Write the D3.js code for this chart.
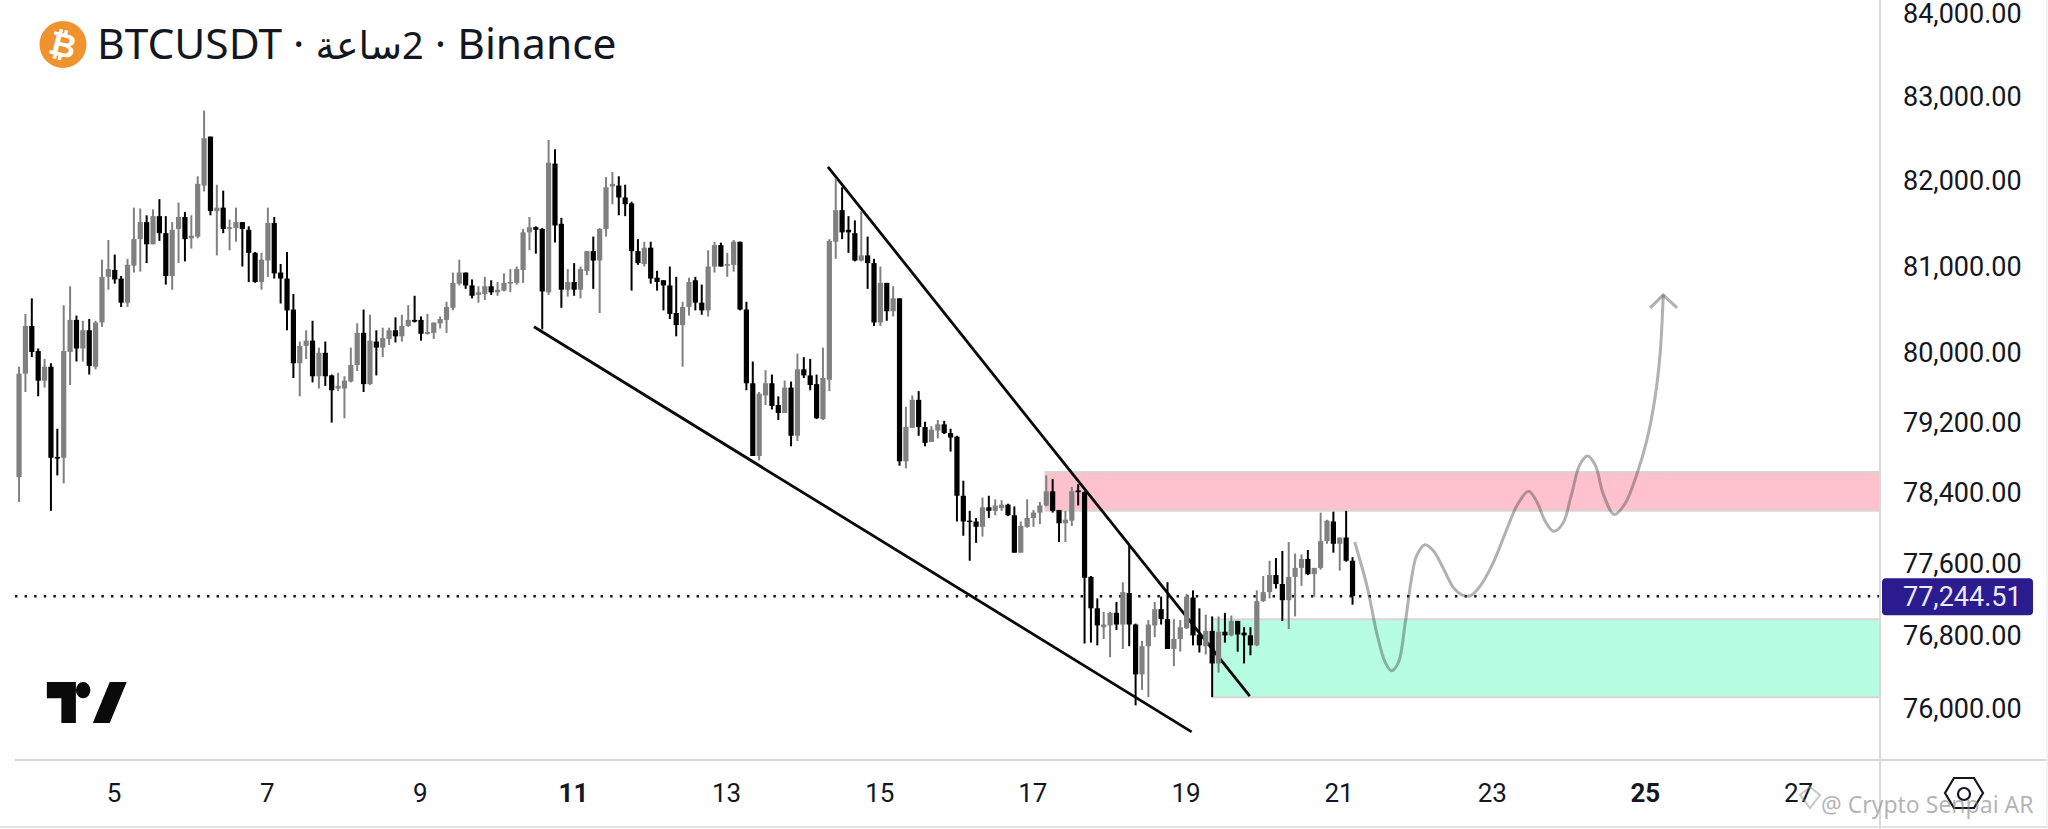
<!DOCTYPE html>
<html>
<head>
<meta charset="utf-8">
<script src="https://cdn.jsdelivr.net/npm/d3@7"></script>
<style>
    html, body { margin: 0; padding: 0; background: #fff; overflow: hidden; }
    text { font-family: Roboto, "Noto Sans", "DejaVu Sans", sans-serif; }
    .axis path, .axis line { display: none; }
</style>
</head>
<body>
<div id="chart"></div>
<script>
// candle values, one entry per 2 hour bar
const opens = [
    78580,79760,80310,80020,79680,79840,78810,78800,80010,80380,
    80050,80260,79840,80350,80880,80960,80860,80580,81010,81320,
    81520,81260,81590,81390,80890,81440,81580,81330,81350,81950,
    82530,81650,81690,81440,81450,81520,81430,81160,80820,81070,
    81510,80930,80860,80500,79880,80080,80140,79730,80000,79740,
    79590,79590,79670,79860,80230,79640,80130,80060,80160,80260,
    80190,80310,80380,80380,80220,80230,80340,80380,80520,80800,
    80930,80780,80670,80680,80770,80700,80720,80810,80810,80960,
    81400,81460,81440,80700,82210,81500,80730,80820,80730,80950,
    81180,81070,81440,81940,81950,81810,81740,81180,81030,81220,
    80870,80840,80780,80460,80320,80530,80840,80580,80490,81000,
    81250,81010,81020,81290,80500,79650,78820,79510,79650,79400,
    79310,79600,79050,79810,79740,79640,79240,79690,81290,81660,
    81430,81390,81070,81130,81040,80350,80810,80480,80630,78760,
    79140,79460,79150,78980,79110,79180,79080,79040,78370,78090,
    78080,78020,78240,78200,78230,78270,78150,77730,78020,78120,
    78180,78260,78420,78210,78060,78090,78430,78410,77460,77110,
    76900,76920,77060,76930,77280,76930,76380,76690,76920,77100,
    76990,76660,76770,76890,77230,76820,76690,76860,76500,76850,
    76810,76970,76840,76810,76700,77190,77290,77480,77380,77200,
    77460,77560,77660,77490,77560,77860,78080,77830,77900,77640
];
const closes = [
    79760,80310,80010,79680,79840,78800,78790,80020,80380,80050,
    80260,79850,80350,80880,80970,80850,80580,81020,81320,81520,
    81260,81590,81390,80890,81430,81580,81320,81360,81970,82510,
    81650,81690,81440,81460,81520,81440,81160,80820,81080,81510,
    80920,80860,80490,79880,80080,80140,79730,80000,79730,79570,
    79620,79680,79860,80230,79640,80140,80060,80170,80260,80190,
    80310,80380,80360,80220,80240,80350,80390,80530,80810,80930,
    80780,80660,80700,80770,80700,80730,80810,80820,80970,81400,
    81460,81430,80710,82220,81480,80730,80820,80730,80970,81180,
    81070,81440,81930,81970,81810,81730,81180,81040,81220,80860,
    80820,80780,80450,80320,80530,80820,80580,80490,81000,81250,
    81000,81030,81290,80500,79650,78820,79530,79650,79390,79310,
    79600,79050,79810,79740,79630,79250,79710,81300,81660,81400,
    81400,81070,81130,81040,80350,80810,80480,80630,78760,79150,
    79460,79150,78970,79120,79180,79080,79030,78370,78080,78080,
    78020,78240,78200,78260,78270,78150,77730,78030,78120,78180,
    78260,78420,78200,78060,78100,78420,78410,77450,77110,76920,
    76930,77060,76930,77290,76930,76380,76690,76930,77100,76990,
    76660,76770,76900,77240,76810,76700,76860,76500,76850,76810,
    76970,76820,76810,76700,77190,77290,77480,77380,77200,77460,
    77560,77660,77490,77560,77860,78090,77830,77900,77640,77244.51
];
const highs = [
    79840,80450,80630,80050,79930,79880,79130,80550,80770,80430,
    80370,80390,80370,81080,81310,81140,80890,81090,81690,81680,
    81600,81670,81790,81590,81520,81750,81640,81600,82060,82840,
    82530,81960,81890,81550,81690,81520,81470,81170,81160,81690,
    81580,81030,81170,80680,80130,80260,80370,80060,80130,79750,
    79770,79730,80060,80340,80500,80440,80260,80290,80290,80410,
    80440,80550,80660,80420,80450,80350,80420,80590,80930,81080,
    80930,80850,80770,80880,80840,80820,80920,80970,81000,81440,
    81580,81470,81450,82490,82380,81570,80970,81040,81000,81180,
    81350,81450,82050,82110,82060,81960,81760,81320,81290,81290,
    80950,80840,81000,80880,80590,80870,80880,80790,81190,81290,
    81280,81160,81310,81290,80590,79900,79550,79800,79750,79500,
    79680,79670,79990,79950,79930,79750,80060,81320,82030,81930,
    81590,81540,81650,81350,81090,81000,80810,80770,80630,79380,
    79510,79560,79210,79160,79230,79220,79130,79050,78540,78200,
    78120,78350,78370,78330,78320,78280,78250,78080,78330,78210,
    78300,78600,78560,78210,78200,78470,78500,78420,77470,77220,
    77070,77070,77180,77400,77810,76940,76750,76980,77180,77240,
    77400,76990,76980,77270,77310,77110,77040,77020,77020,77060,
    77030,76970,76900,76900,77310,77470,77640,77670,77750,77850,
    77720,77710,77760,77560,78180,78100,78190,77900,78200,77680
];
const lows = [
    78300,79550,79950,79500,79600,78200,78600,78510,79630,79900,
    79900,79750,79810,80300,80730,80800,80530,80530,80930,80940,
    81040,81260,81300,80790,80730,81040,81060,81210,81330,81880,
    81600,81130,81390,81190,81290,81000,80820,80810,80730,80880,
    80860,80570,80260,79710,79500,79930,79660,79590,79620,79200,
    79560,79250,79660,79790,79550,79630,79740,79950,80090,80120,
    80130,80300,80350,80140,80210,80160,80280,80230,80490,80780,
    80740,80630,80580,80610,80670,80660,80710,80700,80790,80810,
    81190,81150,80270,80670,81280,80520,80650,80660,80630,80900,
    80740,80460,81350,81730,81600,81590,80720,81020,81000,80800,
    80720,80490,80390,80190,79840,80430,80490,80440,80420,80930,
    81000,80880,80940,80490,79570,78830,78770,79400,79350,79230,
    79310,78930,78990,79710,79570,79240,79230,79560,81090,81320,
    81160,81060,81060,80740,80310,80310,80370,80420,78710,78680,
    79140,79050,78930,78980,79020,79070,78870,78080,77920,77640,
    77840,77910,78120,78150,78200,78140,77730,77730,78010,78020,
    78050,78250,78180,77850,77850,78030,78260,76720,76730,76700,
    76770,76570,76870,76660,76690,76040,76210,76130,76790,76930,
    76660,76470,76630,76880,76700,76620,76600,76130,76400,76730,
    76800,76630,76500,76590,76690,77180,77220,77330,76970,76880,
    77020,77360,77480,77240,77540,77830,77730,77530,77630,77150
];

// axis labels
const priceTicks = [84000, 83000, 82000, 81000, 80000, 79200, 78400, 77600, 76800, 76000];
const dayTicks = [5, 7, 9, 11, 13, 15, 17, 19, 21, 23, 25, 27];
const boldDays = [11, 25];
const lastPrice = 77244.51;

// drawn zones and lines, in [day, price]
const resistanceZone = {days: [17.16, 27.0], prices: [78640, 78200]};
const supportZone = {days: [19.34, 27.0], prices: [76990, 76130]};
const lowerTrendDays = [10.49, 19.08];
const lowerTrendPrices = [80300, 75750];
const upperTrendDays = [14.33, 19.84];
const upperTrendPrices = [82170, 76140];
const forecastDays = [21.21,21.37,21.50,21.61,21.69,21.78,21.87,21.95,22.02,22.13,22.24,22.37,22.50,22.61,22.72,22.85,23.02,23.20,23.33,23.48,23.59,23.70,23.81,23.93,24.04,24.15,24.25,24.35,24.46,24.60,24.74,24.89,25.02,25.13,25.20,25.24];
const forecastPrices = [77850,77360,76830,76510,76420,76510,76950,77430,77700,77820,77750,77550,77340,77260,77250,77360,77620,78000,78260,78420,78300,78080,77970,78060,78380,78720,78820,78720,78380,78160,78280,78600,78980,79470,80000,80670];
const arrowDays = [25.07, 25.24, 25.42];
const arrowPrices = [80520, 80670, 80520];

const firstBarDay = 3.765;
const barsPerDay = 12;

class CandleChart {

    constructor(parentElement) {
        this.parentElement = parentElement;
        this.initVis();
    }

    initVis() {
        let vis = this;

        vis.width = 2048;
        vis.height = 829;
        vis.plotLeft = 15;
        vis.plotRight = 1880;
        vis.plotBottom = 760;

        vis.svg = d3.select("#" + vis.parentElement).append("svg")
            .attr("width", vis.width)
            .attr("height", vis.height)
            .style("display", "block");

        // 2 days is about 153 px on the picture
        vis.x = d3.scaleLinear()
            .domain([5, 27])
            .range([113.6, 1798]);

        // TradingView price axis here is logarithmic
        vis.y = d3.scaleLog()
            .domain([76000, 84000])
            .range([709, 14]);

        vis.bars = d3.range(opens.length).map(i => ({
            day: firstBarDay + i / barsPerDay,
            open: opens[i],
            high: highs[i],
            low: lows[i],
            close: closes[i]
        }));

        vis.updateVis();
    }

    updateVis() {
        let vis = this;

        vis.drawZones();
        vis.drawLastPriceLine();
        vis.drawTrendLines();
        vis.drawCandles();
        vis.drawForecast();
        vis.drawAxes();
        vis.drawHeader();
        vis.drawFooter();
    }

    drawZones() {
        let vis = this;

        [[resistanceZone, "#ffc2cd"], [supportZone, "#b6fde2"]].forEach(([zone, fill]) => {
            let xLeft = vis.x(zone.days[0]);
            let yTop = vis.y(zone.prices[0]);
            let yBottom = vis.y(zone.prices[1]);

            vis.svg.append("rect")
                .attr("x", xLeft)
                .attr("y", yTop)
                .attr("width", vis.plotRight - xLeft)
                .attr("height", yBottom - yTop)
                .attr("fill", fill);

            [yTop, yBottom].forEach(y => {
                vis.svg.append("line")
                    .attr("x1", xLeft).attr("x2", vis.plotRight)
                    .attr("y1", y).attr("y2", y)
                    .attr("stroke", "#d6d6d6")
                    .attr("stroke-width", 2);
            });
        });
    }

    drawLastPriceLine() {
        let vis = this;

        vis.svg.append("line")
            .attr("x1", vis.plotLeft).attr("x2", vis.plotRight)
            .attr("y1", vis.y(lastPrice)).attr("y2", vis.y(lastPrice))
            .attr("stroke", "#111")
            .attr("stroke-width", 2.4)
            .attr("stroke-dasharray", "2.4 7.2");
    }

    drawTrendLines() {
        let vis = this;

        [[lowerTrendDays, lowerTrendPrices], [upperTrendDays, upperTrendPrices]].forEach(([days, prices]) => {
            vis.svg.append("line")
                .attr("x1", vis.x(days[0])).attr("y1", vis.y(prices[0]))
                .attr("x2", vis.x(days[1])).attr("y2", vis.y(prices[1]))
                .attr("stroke", "#0a0a0a")
                .attr("stroke-width", 2.8);
        });
    }

    drawCandles() {
        let vis = this;
        let color = d => d.close >= d.open ? "#808080" : "#000";

        let g = vis.svg.append("g").attr("class", "candles");

        g.selectAll("line")
            .data(vis.bars)
            .enter()
            .append("line")
            .attr("x1", d => vis.x(d.day))
            .attr("x2", d => vis.x(d.day))
            .attr("y1", d => vis.y(d.high))
            .attr("y2", d => vis.y(d.low))
            .attr("stroke", color)
            .attr("stroke-width", 2);

        g.selectAll("rect")
            .data(vis.bars)
            .enter()
            .append("rect")
            .attr("x", d => vis.x(d.day) - 2.6)
            .attr("width", 5.2)
            .attr("y", d => vis.y(Math.max(d.open, d.close)))
            .attr("height", d => Math.max(1.5, vis.y(Math.min(d.open, d.close)) - vis.y(Math.max(d.open, d.close))))
            .attr("fill", color);
    }

    drawForecast() {
        let vis = this;

        let curve = d3.line()
            .x(d => vis.x(d[0]))
            .y(d => vis.y(d[1]))
            .curve(d3.curveCatmullRom.alpha(0.5));

        vis.svg.append("path")
            .attr("d", curve(d3.zip(forecastDays, forecastPrices)))
            .attr("fill", "none")
            .attr("stroke", "rgba(70,70,70,0.42)")
            .attr("stroke-width", 3);

        vis.svg.append("path")
            .attr("d", d3.line().x(d => vis.x(d[0])).y(d => vis.y(d[1]))(d3.zip(arrowDays, arrowPrices)))
            .attr("fill", "none")
            .attr("stroke", "rgba(70,70,70,0.42)")
            .attr("stroke-width", 3);
    }

    drawAxes() {
        let vis = this;

        // frame lines of the two axes
        vis.svg.append("line")
            .attr("x1", vis.plotLeft).attr("x2", vis.width)
            .attr("y1", vis.plotBottom).attr("y2", vis.plotBottom)
            .attr("stroke", "#d9d9d9").attr("stroke-width", 2);
        vis.svg.append("line")
            .attr("x1", vis.plotRight).attr("x2", vis.plotRight)
            .attr("y1", 0).attr("y2", vis.height)
            .attr("stroke", "#d9d9d9").attr("stroke-width", 2);
        vis.svg.append("line")
            .attr("x1", 0).attr("x2", vis.width)
            .attr("y1", 827).attr("y2", 827)
            .attr("stroke", "#e4e4e4").attr("stroke-width", 2);
        vis.svg.append("line")
            .attr("x1", 2047).attr("x2", 2047)
            .attr("y1", 0).attr("y2", vis.height)
            .attr("stroke", "#efefef").attr("stroke-width", 1.5);

        vis.yAxis = d3.axisRight(vis.y)
            .tickValues(priceTicks)
            .tickFormat(d3.format(",.2f"))
            .tickSize(0)
            .tickPadding(23);

        vis.svg.append("g")
            .attr("class", "y-axis axis")
            .attr("transform", "translate(" + vis.plotRight + ",0)")
            .call(vis.yAxis)
            .selectAll("text")
            .attr("font-size", "27px")
            .attr("fill", "#131722")
            .style("font-family", "Roboto, sans-serif");

        vis.xAxis = d3.axisBottom(vis.x)
            .tickValues(dayTicks)
            .tickFormat(d3.format("d"))
            .tickSize(0)
            .tickPadding(24);

        vis.svg.append("g")
            .attr("class", "x-axis axis")
            .attr("transform", "translate(0," + vis.plotBottom + ")")
            .call(vis.xAxis)
            .selectAll("text")
            .attr("font-size", "26px")
            .attr("fill", "#131722")
            .attr("font-weight", d => boldDays.includes(d) ? 700 : 400)
            .style("font-family", "Roboto, sans-serif");

        // last price tag
        let yLast = vis.y(lastPrice);
        vis.svg.append("rect")
            .attr("x", vis.plotRight + 2)
            .attr("y", yLast - 18)
            .attr("width", 151)
            .attr("height", 37)
            .attr("rx", 4)
            .attr("fill", "#2a1b8f");
        vis.svg.append("text")
            .attr("x", vis.plotRight + 23)
            .attr("y", yLast)
            .attr("dy", ".35em")
            .attr("font-size", "27px")
            .attr("fill", "#ece9f7")
            .style("font-family", "Roboto, sans-serif")
            .text(d3.format(",.2f")(lastPrice));
    }

    drawHeader() {
        let vis = this;

        vis.svg.append("circle")
            .attr("cx", 63).attr("cy", 44.5).attr("r", 23.5)
            .attr("fill", "#f0922e");
        vis.svg.append("text")
            .attr("x", 63).attr("y", 44.5)
            .attr("dy", ".36em")
            .attr("text-anchor", "middle")
            .attr("font-size", "33px")
            .attr("font-weight", 700)
            .attr("fill", "#fff")
            .attr("transform", "rotate(14 63 44.5)")
            .style("font-family", "'DejaVu Sans', sans-serif")
            .text("\u20BF");

        let title = vis.svg.append("text")
            .attr("x", 97).attr("y", 59)
            .attr("font-size", "42.5px")
            .attr("fill", "#131722")
            .style("font-family", "'Noto Sans', 'DejaVu Sans', sans-serif");
        title.append("tspan").text("BTCUSDT \u00B7 ");
        title.append("tspan").attr("font-size", "38px").text("\u200F2\u0633\u0627\u0639\u0629\u200F");
        title.append("tspan").text(" \u00B7 Binance");
    }

    drawFooter() {
        let vis = this;

        // TradingView mark
        vis.svg.append("path")
            .attr("d", "M14 6H2v6h6v9h6V6Zm14 0h7l-7 15h-7l7-15Zm-8 3a3 3 0 1 1-6 0 3 3 0 0 1 6 0Z")
            .attr("transform", "translate(42,665.6) scale(2.42,2.73)")
            .attr("fill", "#0a0a0a");

        // settings hexagon in the axis corner
        vis.svg.append("path")
            .attr("d", "M1954 778h20l9 15l-9 15h-20l-9-15Z")
            .attr("fill", "none")
            .attr("stroke", "#131722")
            .attr("stroke-width", 2.2);
        vis.svg.append("circle")
            .attr("cx", 1964).attr("cy", 794).attr("r", 6)
            .attr("fill", "none")
            .attr("stroke", "#131722")
            .attr("stroke-width", 2.2);

        // watermark
        vis.svg.append("path")
            .attr("d", "M1800 795l10 -8l10 8l-10 13Z")
            .attr("fill", "none")
            .attr("stroke", "rgba(130,130,130,0.45)")
            .attr("stroke-width", 2);
        vis.svg.append("text")
            .attr("x", 1821).attr("y", 813)
            .attr("font-size", "23px")
            .attr("fill", "rgba(130,130,130,0.6)")
            .style("font-family", "'Noto Sans', sans-serif")
            .text("@ Crypto Senpai AR");
    }
}

new CandleChart("chart");
</script>
</body>
</html>
